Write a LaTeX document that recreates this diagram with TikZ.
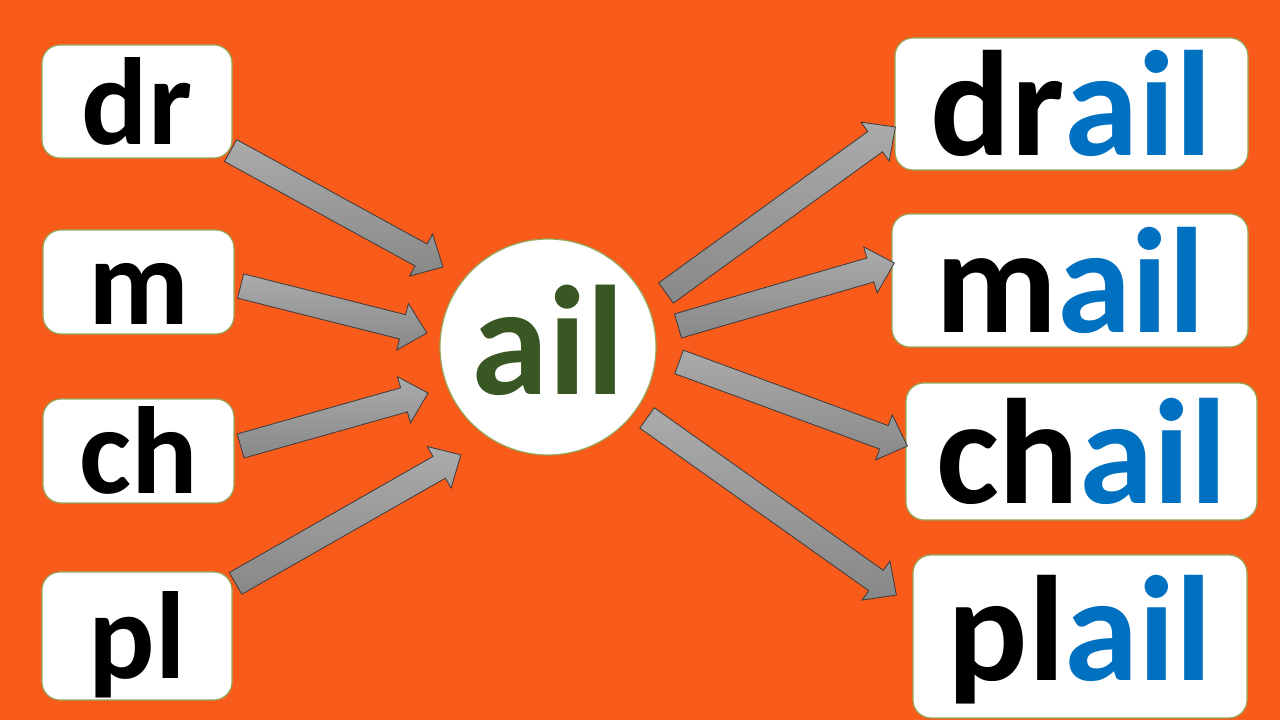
\documentclass[tikz,border=0pt]{standalone}
\usepackage{fontspec}
\setmainfont{Carlito}
\usepackage{tikz}
\usepackage{xcolor}
\usetikzlibrary{calc, positioning}

\definecolor{bgorange}{HTML}{F95B1B}
\definecolor{boxline}{HTML}{93A85A}
\definecolor{ailblue}{HTML}{0070C0}
\definecolor{ailgreen}{HTML}{385723}
\definecolor{arrowline}{HTML}{3A3A3A}
\definecolor{arrowlight}{HTML}{ABABAB}
\definecolor{arrowdark}{HTML}{888888}

\newcommand{\blockarrow}[2]{%
  \draw[blockarrow] let \p1=(#1), \p2=(#2), \p3=($(\p2)!25pt!(\p1)$) in
    ($(\p1)!12.5pt!-90:(\p2)$) -- ($(\p3)!12.5pt!-90:(\p2)$) -- ($(\p3)!24pt!-90:(\p2)$) -- (\p2)
    -- ($(\p3)!24pt!90:(\p2)$) -- ($(\p3)!12.5pt!90:(\p2)$) -- ($(\p1)!12.5pt!90:(\p2)$) -- cycle;}

\begin{document}
\begin{tikzpicture}[x=1pt, y=1pt,
  part/.style={draw=boxline, line width=1.2pt, fill=white, rounded corners=18pt, inner sep=0pt,
    minimum width=190pt, font=\fontsize{124}{124}\selectfont\bfseries, text height=86pt, text depth=0pt},
  word/.style={part, font=\fontsize{150}{150}\selectfont\bfseries, text height=104pt},
  blockarrow/.style={draw=arrowline, line width=0.8pt, top color=arrowlight, bottom color=arrowdark}]
\fill[bgorange] (0,0) rectangle (1280,720);
\useasboundingbox (0,0) rectangle (1280,720);

\node[part, minimum height=113pt] (dr) at (137,618.5) {dr};
\node[part, minimum width=191pt, minimum height=104pt] (m) at (138.5,438) {m};
\node[part, minimum width=191pt, minimum height=104pt] (ch) at (138.5,269) {ch};
\node[part, minimum height=128pt] (pl) at (137,84) {pl};

\node[draw=boxline, line width=1.2pt, fill=white, circle, minimum size=216pt, inner sep=0pt,
  font=\fontsize{156}{156}\selectfont\bfseries, text height=96pt, text depth=0pt] (ail) at (548,373)
  {\textcolor{ailgreen}{ail}\hspace{16pt}};

\node[word, minimum width=353pt, minimum height=132pt] (drail) at (1071.5,616) {dr\textcolor{ailblue}{ail}};
\node[word, minimum width=356pt, minimum height=133pt] (mail) at (1070,439.5) {m\textcolor{ailblue}{ail}};
\node[word, minimum width=351pt, minimum height=137pt] (chail) at (1081.5,268.5) {ch\textcolor{ailblue}{ail}};
\node[word, minimum width=334pt, minimum height=163pt, text height=88pt] (plail) at (1080,83.5) {pl\textcolor{ailblue}{ail}};

\blockarrow{$(dr.south east)+(-2,8)$}{$(ail.center)+(142.7:132)$}
\blockarrow{$(m.east)+(6,-4)$}{$(ail.center)+(173.4:122)$}
\blockarrow{$(ch.east)+(6,5)$}{$(ail.center)+(201:128.5)$}
\blockarrow{$(pl.north east)+(3,-12)$}{$(ail.center)+(231.1:138.7)$}

\blockarrow{$(ail.center)+(24.6:129.8)$}{$(drail.west)+(1,-23)$}
\blockarrow{$(ail.center)+(9.2:131.7)$}{$(mail.west)+(3,17.5)$}
\blockarrow{$(ail.center)+(-6.5:131.9)$}{$(chail.west)+(2,5.5)$}
\blockarrow{$(ail.center)+(-35.6:121.8)$}{$(plail.west)+(-16,41.5)$}
\end{tikzpicture}
\end{document}
